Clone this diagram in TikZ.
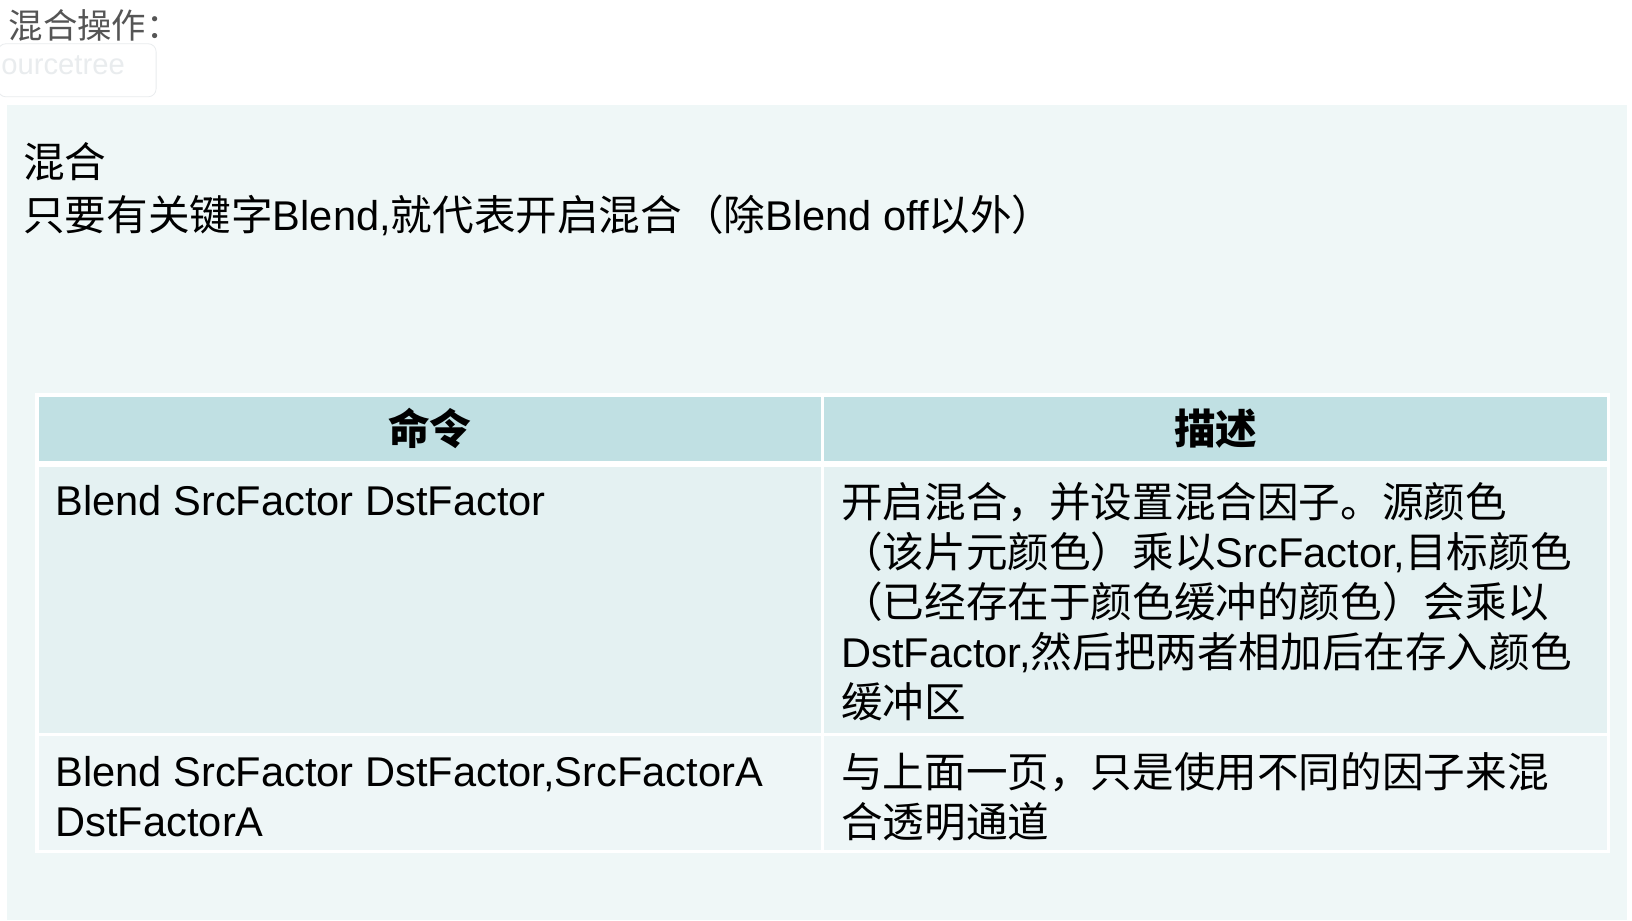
\documentclass[tikz,border=0pt]{standalone}
\usepackage{fontspec}
\setmainfont{Liberation Sans}
\newfontfamily\cjk{Noto Sans CJK SC}
\definecolor{panelbg}{HTML}{EFF7F7}
\definecolor{headbg}{HTML}{C0E0E3}
\definecolor{rowa}{HTML}{E4F1F2}
\definecolor{rowb}{HTML}{EEF6F7}
\definecolor{titlegray}{HTML}{555555}
\definecolor{ghost}{HTML}{E9ECEE}
\tikzset{
    txt/.style={anchor=base west, inner sep=0pt, font=\fontsize{20.8}{25}\selectfont},
    headtxt/.style={inner sep=0pt, font=\fontsize{20.8}{25}\selectfont\cjk\bfseries},
}
% one table cell: x0,y0,x1,y1,colour
\newcommand{\cellbox}[5]{
    \fill[#5] (#1,#2) rectangle (#3,#4);
}

\begin{document}
\begin{tikzpicture}[x=0.5204pt,y=-0.5204pt]
    \useasboundingbox (0,0) rectangle (1568,884);
    \fill[white] (0,0) rectangle (1568,884);

    \node[anchor=base west, inner sep=0pt, text=titlegray, font=\fontsize{17.2}{19}\selectfont\cjk] (title) at (8,37) {混合操作：};
    \draw[ghost, fill=white, rounded corners=4pt] (-2,42) rectangle (150,93);
    \node[anchor=base west, inner sep=0pt, text=ghost, font=\fontsize{14.6}{16}\selectfont] (ghosttxt) at (1,72) {ourcetree};

    % panel
    \fill[panelbg] (7,101) rectangle (1563,884);
    \node[txt] (intro1) at (22,171) {\cjk 混合};
    \node[txt] (intro2) at (22,221) {{\cjk 只要有关键字}Blend,{\cjk 就代表开启混合（除}Blend off{\cjk 以外）}};

    % table
    \fill[white] (34,378) rectangle (1547,820);
    \cellbox{37}{381}{789}{443}{headbg}
    \cellbox{792}{381}{1544}{443}{headbg}
    \cellbox{37}{449}{789}{704}{rowa}
    \cellbox{792}{449}{1544}{704}{rowa}
    \cellbox{37}{707}{789}{817}{rowb}
    \cellbox{792}{707}{1544}{817}{rowb}

    \node[headtxt] (hcmd) at (413,412) {命令};
    \node[headtxt] (hdesc) at (1168,412) {描述};

    \node[txt] (cmda) at (53,495) {Blend SrcFactor DstFactor};
    \foreach \t [count=\i] in {
        {{\cjk 开启混合，并设置混合因子。源颜色}},
        {{\cjk （该片元颜色）乘以}SrcFactor,{\cjk 目标颜色}},
        {{\cjk （已经存在于颜色缓冲的颜色）会乘以}},
        {DstFactor,{\cjk 然后把两者相加后在存入颜色}},
        {{\cjk 缓冲区}}}
        \node[txt] (desca-\i) at (808,{497+48*(\i-1)}) {\t};

    \node[txt] (cmdb-1) at (53,756) {Blend SrcFactor DstFactor,SrcFactorA};
    \node[txt] (cmdb-2) at (53,804) {DstFactorA};
    \node[txt] (descb-1) at (808,757) {\cjk 与上面一页，只是使用不同的因子来混};
    \node[txt] (descb-2) at (808,805) {\cjk 合透明通道};
\end{tikzpicture}
\end{document}
